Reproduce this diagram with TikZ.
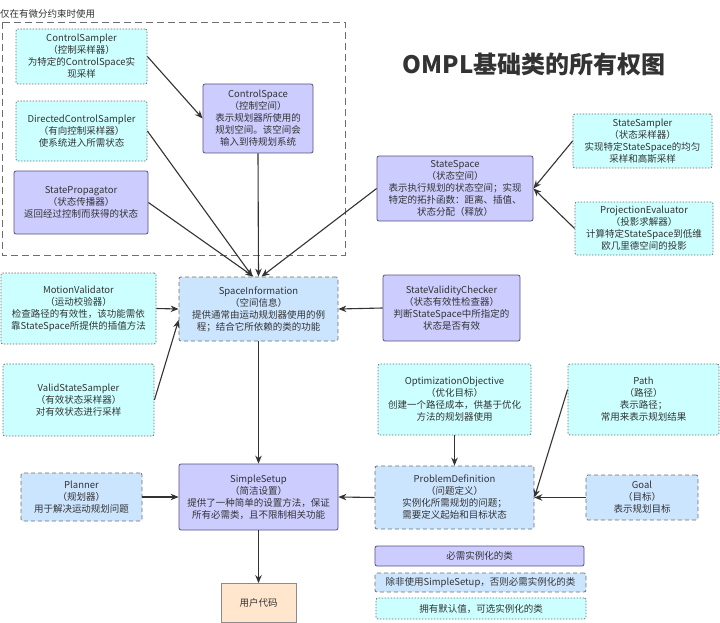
\documentclass[tikz,border=0pt]{standalone}
\usepackage{fontspec}
\setmainfont{Noto Sans CJK SC}
\usetikzlibrary{arrows.meta,calc}
\definecolor{reqfill}{HTML}{CCCCFF}
\definecolor{reqdraw}{HTML}{56517E}
\definecolor{lbfill}{HTML}{CCE5FF}
\definecolor{cyfill}{HTML}{CCFFFF}
\definecolor{ucfill}{HTML}{FFE6CC}
\definecolor{bordg}{HTML}{6E6E6E}
\definecolor{txt}{HTML}{333333}
\definecolor{linec}{HTML}{333333}
\begin{document}
\begin{tikzpicture}[x=1pt,y=-1pt,
  basebox/.style={rounded corners=2pt, align=center, inner sep=1pt, text=txt,
    font=\fontsize{9.5}{12}\selectfont, line width=0.8pt},
  reqbox/.style={basebox, fill=reqfill, draw=reqdraw},
  optbox/.style={basebox, fill=lbfill, draw=bordg, dash pattern=on 4pt off 3pt},
  defbox/.style={basebox, fill=cyfill, draw=bordg, dash pattern=on 1.5pt off 1.5pt},
  userbox/.style={basebox, rounded corners=0pt, fill=ucfill, draw=bordg!80},
  conn/.style={-{Stealth[length=8pt,width=6.5pt]}, line width=1.1pt, draw=linec},
  sz/.style 2 args={minimum width=#1pt, minimum height=#2pt}
]
\useasboundingbox (0,0) rectangle (720,623);
\fill[white] (0,0) rectangle (720,623);

% group frame and label
\draw[bordg, line width=0.9pt, dash pattern=on 7pt off 4pt] (2,22) rectangle (345,255);
\node[anchor=west, inner sep=0pt, text=txt, font=\fontsize{9.5}{12}\selectfont] (grouplabel) at (0,14) {仅在有微分约束时使用};

% title
\node[text=txt, font=\fontsize{24}{28}\selectfont\bfseries, inner sep=0pt] (title) at (534,64) {OMPL基础类的所有权图};

% nodes
\node[defbox, sz={131}{55}] (cs) at (81.5,56.5) {ControlSampler\\（控制采样器）\\为特定的ControlSpace实\\现采样};
\node[defbox, sz={131}{60}] (dcs) at (81.5,131) {DirectedControlSampler\\（有向控制采样器）\\使系统进入所需状态};
\node[reqbox, sz={134}{63}] (sp) at (81,202.5) {StatePropagator\\（状态传播器）\\返回经过控制而获得的状态};
\node[reqbox, sz={110}{69}] (ctl) at (258,118.5) {ControlSpace\\（控制空间）\\表示规划器所使用的\\规划空间。该空间会\\输入到待规划系统};
\node[reqbox, sz={156}{65}] (ss) at (455,188.5) {StateSpace\\（状态空间）\\表示执行规划的状态空间；实现\\特定的拓扑函数：距离、插值、\\状态分配（释放）};
\node[defbox, sz={139}{54}] (ssam) at (642.5,141) {StateSampler\\（状态采样器）\\实现特定StateSpace的均匀\\采样和高斯采样};
\node[defbox, sz={138}{53}] (pe) at (644,228.5) {ProjectionEvaluator\\（投影求解器）\\计算特定StateSpace到低维\\欧几里德空间的投影};
\node[defbox, sz={155}{71}] (mv) at (78.5,308.5) {MotionValidator\\（运动校验器）\\检查路径的有效性，该功能需依\\靠StateSpace所提供的插值方法};
\node[optbox, sz={159}{64}] (si) at (258.5,309) {SpaceInformation\\（空间信息）\\提供通常由运动规划器使用的例\\程；结合它所依赖的类的功能};
\node[defbox, sz={151}{72}] (vss) at (78.5,400) {ValidStateSampler\\（有效状态采样器）\\对有效状态进行采样};
\node[reqbox, sz={137}{66}] (svc) at (451.5,308) {StateValidityChecker\\（状态有效性检查器）\\判断StateSpace中所指定的\\状态是否有效};
\node[defbox, sz={153}{71}] (oo) at (454.5,399.5) {OptimizationObjective\\（优化目标）\\创建一个路径成本，供基于优化\\方法的规划器使用};
\node[defbox, sz={151}{71}] (path) at (643.5,399.5) {Path\\（路径）\\表示路径；\\常用来表示规划结果};
\node[optbox, sz={121}{48}] (pl) at (81.5,497) {Planner\\（规划器）\\用于解决运动规划问题};
\node[reqbox, sz={159}{66}] (su) at (258.5,497) {SimpleSetup\\（简洁设置）\\提供了一种简单的设置方法，保证\\所有必需类，且不限制相关功能};
\node[userbox, sz={75}{39}] (uc) at (258.5,603) {用户代码};
\node[optbox, sz={159}{63}] (pd) at (454.5,497.5) {ProblemDefinition\\（问题定义）\\实例化所需规划的问题；\\需要定义起始和目标状态};
\node[optbox, sz={112}{45}] (goal) at (642,497.5) {Goal\\（目标）\\表示规划目标};

% legend
\node[reqbox, sz={209}{20}] (leg1) at (479.5,556) {必需实例化的类};
\node[optbox, sz={211}{19}] (leg2) at (480.5,582.5) {除非使用SimpleSetup，否则必需实例化的类};
\node[defbox, sz={210}{21}] (leg3) at (481,608.5) {拥有默认值，可选实例化的类};

% connectors
\draw[conn] (cs.east) -- (ctl.west);
\draw[conn] (dcs.east) -- ($(si.north)+(-6,0)$);
\draw[conn] (sp.east) -- ($(si.north)+(-5,0)$);
\draw[conn] (ctl.south) -- (si.north);
\draw[conn] (ss.west) -- ($(si.north)+(3,0)$);
\draw[conn] (ssam.west) -- (ss.east);
\draw[conn] (pe.west) -- (ss.east);
\draw[conn] (mv.east) -- (si.west);
\draw[conn] (vss.east) -- ($(si.west)+(0,11)$);
\draw[conn] (svc.west) -- (si.east);
\draw[conn] (si.south) -- (su.north);
\draw[conn] (pl.east) -- (su.west);
\draw[conn] (pd.west) -- (su.east);
\draw[conn] (oo.south) -- (pd.north);
\draw[conn] ($(path.west)+(0,-10)$) -- (pd.east);
\draw[conn] (goal.west) -- (pd.east);
\draw[conn] (su.south) -- (uc.north);
\end{tikzpicture}
\end{document}
